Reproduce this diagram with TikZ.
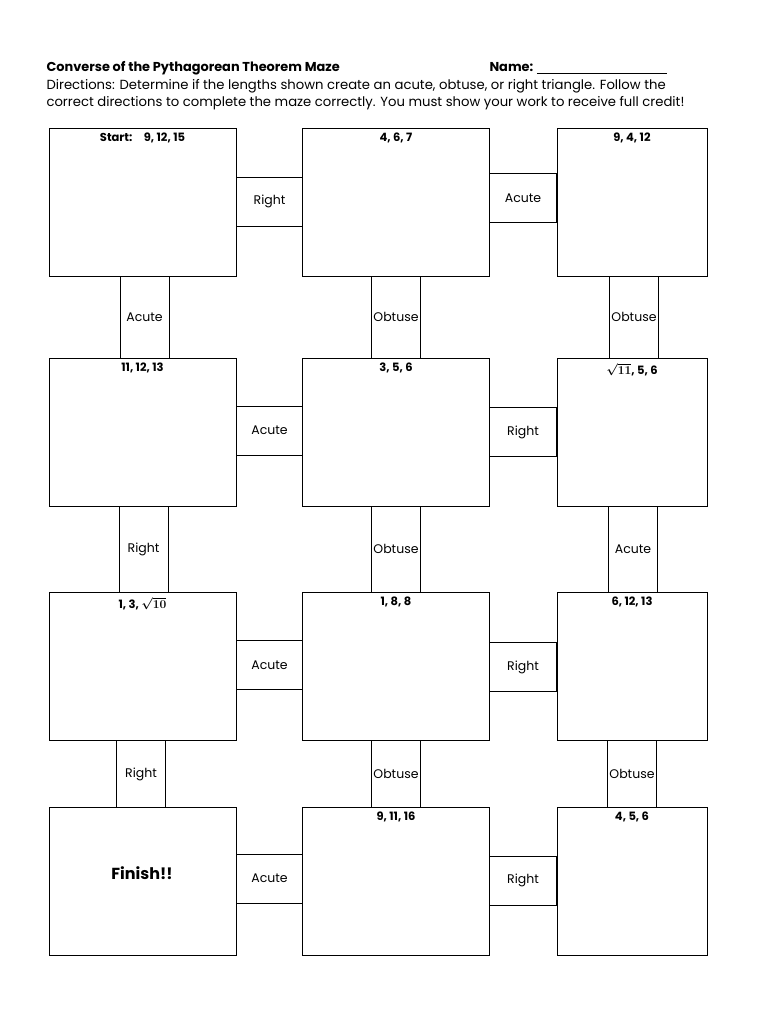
\documentclass[tikz,border=0pt]{standalone}
\usepackage{amsmath}
\usepackage{fontspec}
\setmainfont{Poppins}
\usetikzlibrary{positioning}

\tikzset{
  cell/.style={draw,thick,minimum width=#1,minimum height=148pt,inner sep=0pt},
  cell/.default=187pt,
  link/.style={draw,semithick,minimum width=67pt,minimum height=49pt,inner sep=0pt,font=\fontsize{12.5}{14}\selectfont},
  vlink/.style={draw,semithick,minimum width=49pt,minimum height=#1,inner sep=0pt,font=\fontsize{12.5}{14}\selectfont},
  vlink/.default=82pt,
  tri/.style={font=\bfseries\fontsize{11.5}{13}\selectfont,anchor=north}
}

\begin{document}
\begin{tikzpicture}[x=1pt,y=-1pt]
    
    % page
    \useasboundingbox (0,0) rectangle (768,1024);
    
    % heading
    \node[anchor=west,font=\bfseries\fontsize{12.9}{14}\selectfont] (title) at (43,68) {Converse of the Pythagorean Theorem Maze};
    \node[anchor=west,font=\bfseries\fontsize{12.9}{14}\selectfont] (name) at (486,68) {Name: \underline{\hspace{130pt}}};
    \node[anchor=west,font=\fontsize{13.2}{15}\selectfont] (dir1) at (43,86) {Directions: Determine if the lengths shown create an acute, obtuse, or right triangle. Follow the};
    \node[anchor=west,font=\fontsize{13.2}{15}\selectfont] (dir2) at (43,103) {correct directions to complete the maze correctly. You must show your work to receive full credit!};
    
    % links between the cells (drawn first)
    \node[link] (h11) at (269.5,201.5) {Right};
    \node[link] (h12) at (523,198) {Acute};
    \node[link] (h21) at (269.5,430.5) {Acute};
    \node[link] (h22) at (523,432) {Right};
    \node[link] (h31) at (269.5,665) {Acute};
    \node[link] (h32) at (523,667) {Right};
    \node[link] (h41) at (269.5,878.5) {Acute};
    \node[link] (h42) at (523,880.5) {Right};
    
    \node[vlink] (v11) at (144.5,317) {Acute};
    \node[vlink] (v12) at (396,317) {Obtuse};
    \node[vlink] (v13) at (634,317) {Obtuse};
    \node[vlink=88pt] (v21) at (143.5,549) {Right};
    \node[vlink=88pt] (v22) at (396,549) {Obtuse};
    \node[vlink=88pt] (v23) at (633,549) {Acute};
    \node[vlink=70pt] (v31) at (141,774) {Right};
    \node[vlink=70pt] (v32) at (396,774) {Obtuse};
    \node[vlink=70pt] (v33) at (632,774) {Obtuse};
    
    % cells
    \foreach \r/\y in {1/202,2/432,3/666,4/881} {
        \node[cell,fill=white] (c\r1) at (142.5,\y) {};
        \node[cell,fill=white] (c\r2) at (396,\y) {};
        \node[cell=150pt,fill=white] (c\r3) at (632,\y) {};
    }
    
    % side lengths
    \node[tri] at ([yshift=-2pt]c11.north) {Start:\quad 9, 12, 15};
    \node[tri] at ([yshift=-2pt]c12.north) {4, 6, 7};
    \node[tri] at ([yshift=-2pt]c13.north) {9, 4, 12};
    \node[tri] at ([yshift=-2pt]c21.north) {11, 12, 13};
    \node[tri] at ([yshift=-2pt]c22.north) {3, 5, 6};
    \node[tri] at ([yshift=-2pt]c23.north) {$\boldsymbol{\sqrt{11}}$, 5, 6};
    \node[tri] at ([yshift=-2pt]c31.north) {1, 3, $\boldsymbol{\sqrt{10}}$};
    \node[tri] at ([yshift=-2pt]c32.north) {1, 8, 8};
    \node[tri] at ([yshift=-2pt]c33.north) {6, 12, 13};
    \node[tri] at ([yshift=-2pt]c42.north) {9, 11, 16};
    \node[tri] at ([yshift=-2pt]c43.north) {4, 5, 6};
    \node[font=\bfseries\fontsize{16}{18}\selectfont] (finish) at (142,873) {Finish!!};
    
\end{tikzpicture}
\end{document}
